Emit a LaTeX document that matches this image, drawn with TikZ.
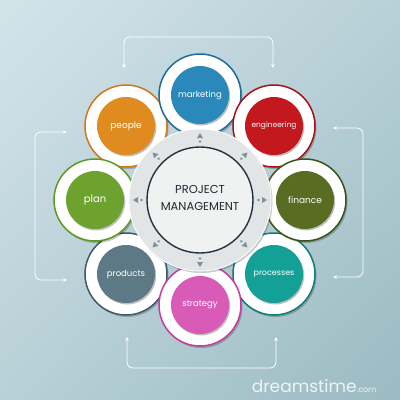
\documentclass[tikz,border=0pt]{standalone}
\usepackage{fontspec}
\setmainfont{Poppins}
\usetikzlibrary{arrows.meta,shadows,calc,shadings}
\definecolor{bgA}{HTML}{D3E4E9}
\definecolor{bgM}{HTML}{B8D0D7}
\definecolor{bgB}{HTML}{9BBAC2}
\definecolor{mkI}{HTML}{2A88BB}\definecolor{mkO}{HTML}{1C6C9C}
\definecolor{enI}{HTML}{C3181E}\definecolor{enO}{HTML}{A51318}
\definecolor{fiI}{HTML}{586D22}\definecolor{fiO}{HTML}{3C5316}
\definecolor{prI}{HTML}{12A097}\definecolor{prO}{HTML}{0C8078}
\definecolor{stI}{HTML}{D85BB8}\definecolor{stO}{HTML}{C73C9E}
\definecolor{pdI}{HTML}{5E7986}\definecolor{pdO}{HTML}{3C5C68}
\definecolor{plI}{HTML}{6DA22F}\definecolor{plO}{HTML}{5C9A24}
\definecolor{peI}{HTML}{E08B1F}\definecolor{peO}{HTML}{D07718}
\definecolor{ringgray}{HTML}{E2E5E6}
\definecolor{coregray}{HTML}{F0F1F1}
\definecolor{corenavy}{HTML}{25323D}
\definecolor{titletext}{HTML}{1E2830}
\definecolor{markgray}{HTML}{7F9098}
\definecolor{wmcolor}{HTML}{EEF3F4}
\tikzset{
  ringnode/.style={circle, minimum size=82pt, inner sep=0pt, fill=white, draw=#1, line width=1.5pt,
    drop shadow={shadow xshift=1.5pt, shadow yshift=-2pt, opacity=0.22, fill=black}},
  discnode/.style={circle, minimum size=58pt, inner sep=0pt, fill=#1, text=white,
    font=\fontsize{8.5}{10}\selectfont,
    drop shadow={shadow xshift=1.2pt, shadow yshift=-1.5pt, opacity=0.25, fill=black}},
  wline/.style={draw=white, line width=0.8pt, rounded corners=6pt,
    arrows={Stealth[length=4pt,width=3.6pt]-Stealth[length=4pt,width=3.6pt]}},
}
\begin{document}
\begin{tikzpicture}[x=1pt,y=-1pt]
\useasboundingbox (0,0) rectangle (400,400);
\shade[upper left=bgA, upper right=bgM, lower left=bgM, lower right=bgB] (0,0) rectangle (400,400);

% connector end points
\coordinate (t1) at (124,68); \coordinate (t2) at (273,68);
\coordinate (l1) at (67,132); \coordinate (l2) at (67,280);
\coordinate (r1) at (333,128); \coordinate (r2) at (333,277);
\coordinate (b1) at (127,337); \coordinate (b2) at (276,337);
\draw[wline] (t1) -- (124,37) -- (273,37) -- (t2);
\draw[wline] (l1) -- (35,132) -- (35,280) -- (l2);
\draw[wline] (r1) -- (363,128) -- (363,277) -- (r2);
\draw[wline] (b1) -- (127,368) -- (276,368) -- (b2);

% satellites
\node[ringnode=peO] (peR) at (126,126) {};
\node[discnode=peI, font=\fontsize{9}{10}\selectfont] (pe) at (peR) {people};
\node[ringnode=mkO] (mkR) at (200,95) {};
\node[discnode=mkI] (mk) at (mkR) {marketing};
\node[ringnode=enO] (enR) at (274,126) {};
\node[discnode=enI, font=\fontsize{7.5}{10}\selectfont] (en) at (enR) {engineering};
\node[ringnode=prO] (prR) at (274,274) {};
\node[discnode=prI, font=\fontsize{8}{10}\selectfont] (pr) at (prR) {processes};
\node[ringnode=fiO] (fiR) at (305,200) {};
\node[discnode=fiI, font=\fontsize{9}{10}\selectfont] (fi) at (fiR) {finance};
\node[ringnode=pdO] (pdR) at (126,274) {};
\node[discnode=pdI] (pd) at (pdR) {products};
\node[ringnode=stO] (stR) at (200,305) {};
\node[discnode=stI] (st) at (stR) {strategy};
\node[ringnode=plO] (plR) at (95,200) {};
\node[discnode=plI, font=\fontsize{10}{10}\selectfont] (pl) at (plR) {plan};

% centre
\node[circle, minimum size=142pt, inner sep=0pt, fill=ringgray, draw=white, line width=0.8pt,
  drop shadow={shadow xshift=1.5pt, shadow yshift=-2pt, opacity=0.2, fill=black}] (ringC) at (200,200) {};
\node[circle, minimum size=106pt, inner sep=0pt, fill=coregray, draw=corenavy, line width=1.4pt] (core) at (200,200) {};
\node[align=center, text=titletext, font=\fontsize{11.5}{17}\selectfont] (title) at (200,198) {PROJECT\\MANAGEMENT};

\foreach \a in {0,45,...,315}{
  \begin{scope}[shift={(200,200)}, rotate=\a]
    \fill[markgray] (67,0) -- (62,3) -- (62,-3) -- cycle;
    \fill[markgray] (58.5,0) circle[radius=1.3];
  \end{scope}
}

\node[anchor=base east, text=wmcolor, font=\fontsize{17}{17}\selectfont] (wm) at (380,392) {dreamstime{\fontsize{8}{8}\selectfont.com}};
\end{tikzpicture}
\end{document}
